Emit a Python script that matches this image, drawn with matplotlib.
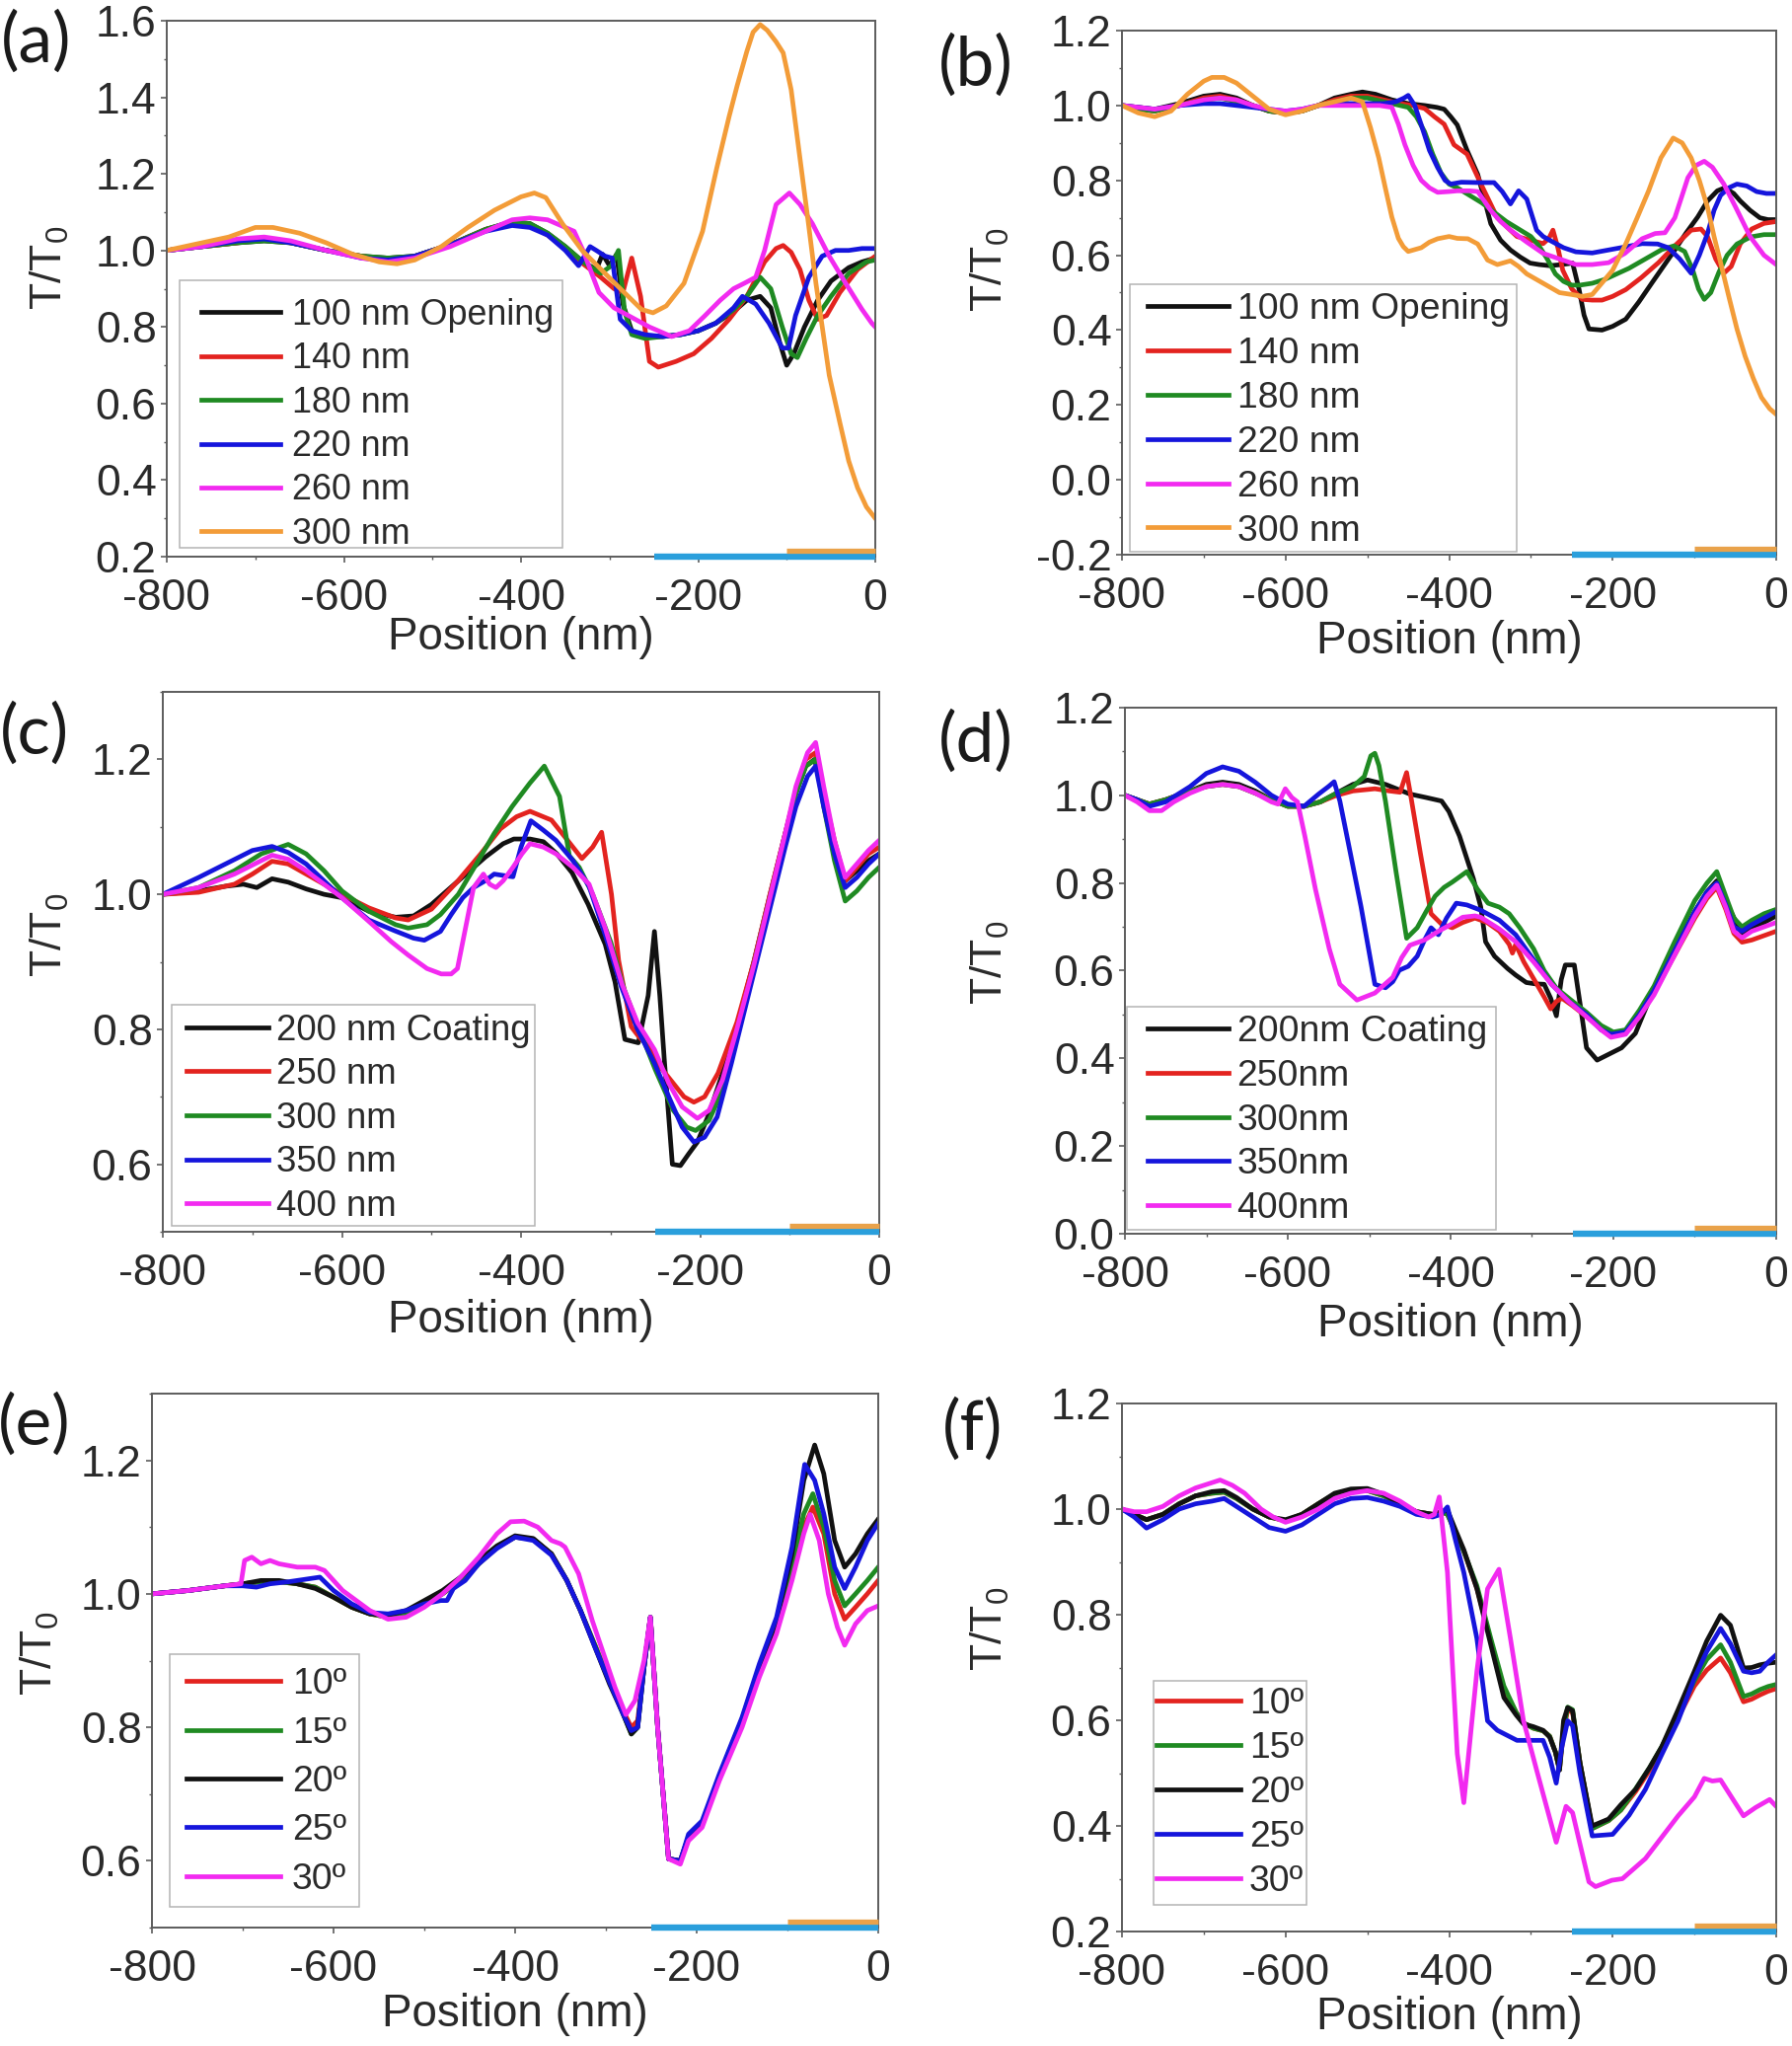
import matplotlib
matplotlib.use("Agg")
import matplotlib.pyplot as plt
from matplotlib.patches import Rectangle
from matplotlib.ticker import MultipleLocator, FuncFormatter
from matplotlib.transforms import offset_copy

plt.rcParams["font.family"] = ["Liberation Sans", "DejaVu Sans"]
plt.rcParams["axes.unicode_minus"] = False

W, H = 1816, 2073

# ---------------- data: (position nm, T/T0) ----------------
# (a) opening width
A_100 = [(-800,1.00),(-760,1.01),(-720,1.02),(-690,1.025),(-660,1.02),(-620,1.00),(-580,0.985),(-550,0.98),(-520,0.985),(-480,1.015),(-440,1.055),(-410,1.075),(-390,1.07),(-370,1.045),(-350,1.01),(-330,0.97),(-315,0.95),(-308,0.99),(-300,0.96),(-292,0.99),(-285,0.86),(-275,0.79),(-260,0.775),(-240,0.775),(-220,0.78),(-200,0.79),(-180,0.81),(-160,0.84),(-145,0.87),(-130,0.88),(-118,0.85),(-108,0.76),(-100,0.70),(-92,0.73),(-80,0.80),(-65,0.87),(-50,0.92),(-30,0.955),(-15,0.97),(0,0.98)]
A_140 = [(-800,1.00),(-760,1.01),(-720,1.02),(-690,1.03),(-660,1.02),(-620,1.00),(-580,0.985),(-550,0.975),(-520,0.985),(-480,1.015),(-440,1.055),(-410,1.07),(-390,1.065),(-370,1.04),(-350,1.005),(-330,0.965),(-310,0.93),(-295,0.90),(-285,0.89),(-275,0.98),(-265,0.88),(-255,0.71),(-245,0.695),(-225,0.71),(-205,0.73),(-185,0.77),(-165,0.82),(-145,0.88),(-125,0.97),(-112,1.005),(-104,1.013),(-95,0.995),(-85,0.95),(-75,0.87),(-65,0.82),(-55,0.83),(-40,0.89),(-20,0.95),(0,0.985)]
A_180 = [(-800,1.00),(-760,1.01),(-720,1.02),(-690,1.025),(-660,1.02),(-620,1.00),(-580,0.985),(-550,0.98),(-520,0.985),(-480,1.015),(-440,1.055),(-410,1.075),(-390,1.07),(-370,1.045),(-350,1.01),(-330,0.97),(-310,0.94),(-298,0.96),(-290,1.00),(-283,0.84),(-275,0.78),(-260,0.77),(-240,0.775),(-220,0.78),(-200,0.79),(-180,0.81),(-160,0.845),(-145,0.88),(-130,0.93),(-118,0.90),(-105,0.80),(-95,0.73),(-88,0.72),(-78,0.77),(-65,0.83),(-50,0.88),(-30,0.94),(-10,0.97),(0,0.975)]
A_220 = [(-800,1.00),(-760,1.01),(-720,1.025),(-690,1.03),(-660,1.02),(-620,1.00),(-580,0.98),(-550,0.975),(-520,0.985),(-480,1.015),(-440,1.05),(-410,1.065),(-390,1.06),(-370,1.04),(-350,1.00),(-335,0.96),(-322,1.01),(-315,1.00),(-305,0.985),(-297,0.98),(-288,0.82),(-275,0.79),(-260,0.78),(-240,0.775),(-220,0.78),(-200,0.79),(-180,0.81),(-160,0.85),(-150,0.88),(-135,0.86),(-120,0.81),(-105,0.745),(-98,0.745),(-90,0.83),(-75,0.93),(-60,0.985),(-45,1.00),(-30,1.00),(-15,1.005),(0,1.005)]
A_260 = [(-800,1.00),(-760,1.01),(-720,1.03),(-690,1.035),(-660,1.025),(-620,1.00),(-580,0.98),(-550,0.97),(-520,0.98),(-480,1.01),(-440,1.05),(-410,1.08),(-390,1.085),(-370,1.08),(-350,1.06),(-340,1.05),(-330,1.00),(-312,0.89),(-295,0.85),(-275,0.825),(-255,0.80),(-230,0.775),(-210,0.79),(-193,0.828),(-175,0.87),(-160,0.90),(-148,0.914),(-135,0.93),(-125,1.00),(-112,1.12),(-97,1.15),(-85,1.12),(-71,1.07),(-52,0.985),(-35,0.92),(-15,0.846),(-4,0.81),(0,0.80)]
A_300 = [(-800,1.00),(-760,1.02),(-730,1.035),(-700,1.06),(-680,1.06),(-650,1.045),(-620,1.02),(-590,0.99),(-560,0.97),(-540,0.965),(-520,0.975),(-490,1.01),(-460,1.06),(-430,1.105),(-400,1.14),(-385,1.15),(-372,1.138),(-353,1.069),(-331,1.00),(-294,0.914),(-264,0.846),(-251,0.837),(-236,0.855),(-216,0.914),(-195,1.05),(-179,1.215),(-165,1.35),(-156,1.43),(-145,1.52),(-138,1.57),(-130,1.59),(-122,1.575),(-112,1.545),(-104,1.516),(-95,1.42),(-86,1.258),(-76,1.08),(-67,0.914),(-52,0.674),(-40,0.55),(-30,0.45),(-20,0.38),(-10,0.33),(0,0.30)]

# (b) opening width
B_100 = [(-800,1.0),(-780,0.995),(-760,0.99),(-730,1.005),(-700,1.025),(-680,1.03),(-660,1.02),(-640,1.0),(-620,0.985),(-600,0.98),(-580,0.985),(-560,1.0),(-540,1.02),(-520,1.03),(-506,1.036),(-490,1.03),(-470,1.015),(-450,1.005),(-430,1.0),(-415,0.995),(-406,0.99),(-398,0.97),(-390,0.948),(-378,0.88),(-365,0.816),(-349,0.684),(-337,0.64),(-325,0.614),(-313,0.595),(-301,0.579),(-290,0.575),(-277,0.572),(-262,0.575),(-249,0.579),(-241,0.508),(-235,0.44),(-229,0.403),(-213,0.40),(-200,0.41),(-184,0.429),(-168,0.475),(-152,0.526),(-138,0.57),(-124,0.614),(-110,0.66),(-96,0.702),(-84,0.745),(-72,0.772),(-63,0.78),(-52,0.765),(-44,0.745),(-32,0.72),(-20,0.70),(-10,0.695),(0,0.695)]
B_140 = [(-800,1.0),(-780,0.99),(-760,0.985),(-730,1.0),(-700,1.02),(-680,1.025),(-660,1.015),(-640,1.0),(-620,0.985),(-600,0.98),(-580,0.985),(-560,1.0),(-540,1.015),(-520,1.025),(-500,1.025),(-480,1.015),(-460,1.005),(-445,1.0),(-430,0.992),(-418,0.97),(-406,0.95),(-394,0.895),(-378,0.87),(-361,0.79),(-341,0.70),(-317,0.65),(-300,0.64),(-285,0.631),(-278,0.645),(-273,0.667),(-267,0.62),(-261,0.56),(-250,0.51),(-237,0.482),(-225,0.48),(-213,0.48),(-200,0.49),(-184,0.508),(-165,0.54),(-144,0.58),(-124,0.625),(-104,0.667),(-92,0.67),(-84,0.65),(-74,0.59),(-64,0.552),(-55,0.57),(-44,0.63),(-30,0.67),(-15,0.685),(0,0.69)]
B_180 = [(-800,1.0),(-780,0.99),(-760,0.985),(-730,1.0),(-700,1.015),(-680,1.02),(-660,1.01),(-640,1.0),(-620,0.985),(-600,0.98),(-580,0.985),(-560,1.0),(-540,1.01),(-520,1.02),(-500,1.02),(-480,1.01),(-460,1.0),(-450,0.995),(-440,0.97),(-430,0.93),(-420,0.87),(-410,0.82),(-400,0.79),(-390,0.78),(-375,0.76),(-360,0.74),(-345,0.715),(-330,0.69),(-315,0.67),(-300,0.65),(-290,0.625),(-280,0.59),(-270,0.55),(-260,0.53),(-250,0.52),(-240,0.52),(-225,0.525),(-210,0.535),(-195,0.55),(-180,0.565),(-160,0.59),(-140,0.615),(-125,0.625),(-112,0.61),(-102,0.56),(-95,0.51),(-88,0.482),(-80,0.50),(-70,0.555),(-60,0.60),(-48,0.63),(-31,0.649),(-15,0.655),(0,0.655)]
B_220 = [(-800,1.0),(-780,0.995),(-760,0.99),(-730,1.0),(-700,1.005),(-680,1.005),(-660,1.0),(-640,0.995),(-620,0.99),(-600,0.985),(-580,0.99),(-560,1.0),(-540,1.005),(-520,1.005),(-500,1.005),(-480,1.005),(-465,1.01),(-455,1.02),(-450,1.027),(-442,1.0),(-434,0.948),(-424,0.88),(-414,0.834),(-405,0.80),(-398,0.79),(-385,0.795),(-365,0.794),(-345,0.794),(-335,0.77),(-325,0.737),(-315,0.772),(-305,0.75),(-293,0.667),(-285,0.65),(-277,0.64),(-260,0.62),(-245,0.609),(-225,0.606),(-205,0.614),(-185,0.622),(-164,0.631),(-145,0.63),(-132,0.62),(-118,0.59),(-104,0.552),(-94,0.60),(-84,0.658),(-76,0.72),(-68,0.76),(-58,0.78),(-48,0.79),(-36,0.785),(-24,0.77),(-12,0.765),(0,0.765)]
B_260 = [(-800,1.0),(-780,0.995),(-760,0.99),(-730,1.0),(-700,1.015),(-680,1.02),(-660,1.015),(-640,1.0),(-620,0.99),(-600,0.985),(-580,0.99),(-560,1.0),(-540,1.0),(-520,1.0),(-500,1.0),(-485,1.0),(-470,0.995),(-462,0.95),(-454,0.895),(-444,0.84),(-434,0.80),(-424,0.78),(-414,0.768),(-400,0.77),(-390,0.772),(-375,0.772),(-365,0.77),(-357,0.745),(-349,0.719),(-337,0.69),(-325,0.667),(-305,0.635),(-285,0.605),(-265,0.59),(-245,0.575),(-225,0.575),(-205,0.58),(-185,0.605),(-164,0.644),(-148,0.658),(-136,0.66),(-124,0.70),(-115,0.76),(-108,0.807),(-98,0.84),(-88,0.851),(-78,0.835),(-64,0.79),(-50,0.73),(-32,0.65),(-15,0.60),(0,0.575)]
B_300 = [(-800,1.0),(-780,0.98),(-760,0.97),(-740,0.985),(-720,1.03),(-700,1.065),(-690,1.075),(-675,1.075),(-660,1.06),(-640,1.025),(-620,0.99),(-600,0.975),(-580,0.985),(-560,1.0),(-540,1.01),(-520,1.02),(-506,1.01),(-496,0.94),(-486,0.86),(-478,0.78),(-470,0.702),(-462,0.645),(-456,0.623),(-450,0.61),(-442,0.615),(-434,0.62),(-424,0.635),(-414,0.644),(-400,0.65),(-390,0.645),(-377,0.644),(-365,0.63),(-353,0.587),(-341,0.575),(-333,0.58),(-325,0.585),(-315,0.57),(-305,0.55),(-285,0.525),(-265,0.50),(-250,0.495),(-237,0.49),(-225,0.495),(-213,0.526),(-200,0.56),(-184,0.63),(-170,0.70),(-156,0.772),(-141,0.86),(-126,0.913),(-115,0.90),(-104,0.86),(-94,0.80),(-84,0.728),(-76,0.65),(-68,0.58),(-58,0.49),(-48,0.403),(-38,0.33),(-28,0.271),(-18,0.22),(-8,0.19),(0,0.175)]

# (c) coating thickness
C_200 = [(-800,1.0),(-760,1.005),(-730,1.012),(-710,1.015),(-695,1.01),(-678,1.023),(-660,1.018),(-640,1.008),(-620,1.0),(-600,0.995),(-570,0.975),(-540,0.966),(-520,0.968),(-500,0.985),(-470,1.02),(-440,1.055),(-420,1.075),(-408,1.082),(-390,1.082),(-375,1.078),(-360,1.06),(-343,1.032),(-325,0.985),(-306,0.926),(-295,0.87),(-284,0.785),(-269,0.78),(-258,0.85),(-251,0.945),(-245,0.85),(-240,0.755),(-231,0.60),(-222,0.598),(-213,0.615),(-203,0.633),(-190,0.675),(-175,0.735),(-159,0.804),(-140,0.90),(-122,0.999),(-105,1.09),(-93,1.15),(-82,1.19),(-72,1.20),(-62,1.14),(-50,1.07),(-38,1.02),(-25,1.035),(-12,1.05),(0,1.06)]
C_250 = [(-800,1.0),(-760,1.003),(-720,1.015),(-700,1.03),(-678,1.049),(-660,1.045),(-640,1.03),(-620,1.015),(-600,1.0),(-570,0.98),(-540,0.965),(-526,0.962),(-500,0.978),(-471,1.019),(-445,1.06),(-423,1.097),(-405,1.115),(-390,1.123),(-366,1.11),(-348,1.08),(-332,1.053),(-320,1.07),(-310,1.092),(-299,1.0),(-291,0.902),(-277,0.804),(-269,0.79),(-258,0.775),(-245,0.745),(-230,0.72),(-218,0.70),(-207,0.692),(-195,0.70),(-180,0.735),(-159,0.81),(-140,0.90),(-122,1.0),(-105,1.09),(-93,1.155),(-82,1.20),(-71,1.21),(-62,1.15),(-50,1.08),(-38,1.02),(-25,1.04),(-12,1.06),(0,1.07)]
C_300 = [(-800,1.0),(-760,1.01),(-720,1.035),(-690,1.06),(-660,1.074),(-640,1.06),(-620,1.035),(-600,1.005),(-570,0.975),(-540,0.955),(-526,0.95),(-505,0.955),(-490,0.97),(-470,1.0),(-453,1.038),(-430,1.09),(-410,1.13),(-390,1.165),(-374,1.19),(-357,1.145),(-346,1.057),(-335,1.04),(-320,1.0),(-300,0.93),(-285,0.86),(-268,0.80),(-250,0.74),(-230,0.68),(-215,0.655),(-205,0.65),(-190,0.665),(-175,0.71),(-159,0.795),(-140,0.895),(-122,0.995),(-105,1.085),(-93,1.15),(-82,1.19),(-71,1.20),(-62,1.13),(-50,1.05),(-38,0.99),(-25,1.005),(-12,1.025),(0,1.04)]
C_350 = [(-800,1.0),(-760,1.025),(-730,1.045),(-700,1.065),(-678,1.071),(-660,1.062),(-640,1.045),(-620,1.02),(-600,0.995),(-570,0.962),(-541,0.946),(-520,0.935),(-508,0.932),(-490,0.945),(-478,0.97),(-465,0.995),(-453,1.01),(-440,1.02),(-430,1.03),(-420,1.028),(-409,1.026),(-400,1.07),(-389,1.109),(-375,1.095),(-361,1.08),(-342,1.05),(-324,1.012),(-306,0.94),(-288,0.863),(-270,0.80),(-251,0.75),(-235,0.70),(-220,0.655),(-207,0.633),(-195,0.64),(-181,0.67),(-165,0.75),(-150,0.83),(-135,0.91),(-120,0.99),(-105,1.07),(-93,1.13),(-80,1.175),(-71,1.19),(-62,1.13),(-50,1.06),(-38,1.01),(-25,1.025),(-12,1.045),(0,1.06)]
C_400 = [(-800,1.0),(-760,1.01),(-720,1.03),(-690,1.05),(-678,1.058),(-660,1.052),(-640,1.035),(-620,1.015),(-600,0.995),(-570,0.96),(-545,0.93),(-526,0.91),(-505,0.89),(-489,0.882),(-478,0.882),(-471,0.89),(-462,0.95),(-453,1.01),(-442,1.03),(-435,1.015),(-428,1.01),(-420,1.02),(-409,1.04),(-399,1.06),(-390,1.075),(-375,1.07),(-361,1.06),(-342,1.04),(-324,1.015),(-306,0.95),(-287,0.866),(-270,0.81),(-251,0.77),(-235,0.72),(-220,0.685),(-203,0.668),(-190,0.68),(-175,0.725),(-159,0.80),(-140,0.895),(-122,0.995),(-105,1.09),(-93,1.16),(-80,1.21),(-71,1.225),(-62,1.16),(-50,1.08),(-38,1.025),(-25,1.045),(-12,1.065),(0,1.08)]

# (d) coating thickness
D_200 = [(-800,1.0),(-785,0.99),(-770,0.98),(-750,0.99),(-720,1.01),(-700,1.025),(-680,1.03),(-660,1.025),(-640,1.01),(-620,0.99),(-600,0.975),(-580,0.975),(-560,0.985),(-540,1.005),(-520,1.025),(-502,1.035),(-480,1.025),(-450,1.003),(-430,0.995),(-411,0.987),(-402,0.963),(-389,0.907),(-372,0.81),(-363,0.746),(-357,0.666),(-346,0.633),(-330,0.605),(-320,0.59),(-307,0.573),(-296,0.57),(-285,0.569),(-277,0.537),(-270,0.497),(-264,0.58),(-259,0.613),(-248,0.613),(-240,0.513),(-233,0.424),(-220,0.396),(-205,0.41),(-190,0.424),(-173,0.457),(-150,0.56),(-125,0.65),(-100,0.735),(-85,0.78),(-73,0.805),(-60,0.75),(-42,0.685),(-30,0.70),(-15,0.71),(0,0.725)]
D_250 = [(-800,1.0),(-785,0.99),(-770,0.98),(-750,0.99),(-720,1.01),(-700,1.02),(-680,1.025),(-660,1.02),(-640,1.005),(-620,0.99),(-600,0.975),(-580,0.975),(-560,0.985),(-540,1.0),(-520,1.01),(-493,1.015),(-475,1.01),(-462,1.007),(-454,1.052),(-449,1.0),(-437,0.867),(-424,0.73),(-411,0.706),(-398,0.698),(-385,0.71),(-370,0.72),(-355,0.71),(-340,0.69),(-328,0.66),(-324,0.64),(-320,0.66),(-310,0.62),(-294,0.569),(-285,0.54),(-277,0.513),(-270,0.53),(-263,0.537),(-250,0.52),(-233,0.495),(-215,0.47),(-203,0.455),(-185,0.46),(-168,0.495),(-150,0.55),(-125,0.635),(-100,0.72),(-85,0.765),(-73,0.79),(-62,0.74),(-52,0.685),(-42,0.665),(-30,0.67),(-15,0.68),(0,0.69)]
D_300 = [(-800,1.0),(-785,0.99),(-770,0.98),(-750,0.99),(-720,1.01),(-700,1.02),(-680,1.025),(-660,1.02),(-640,1.005),(-620,0.99),(-600,0.975),(-580,0.975),(-560,0.985),(-540,1.005),(-520,1.02),(-506,1.043),(-498,1.09),(-493,1.096),(-488,1.068),(-480,0.987),(-467,0.826),(-454,0.674),(-441,0.698),(-430,0.735),(-419,0.77),(-408,0.79),(-398,0.802),(-380,0.826),(-367,0.786),(-354,0.754),(-340,0.745),(-328,0.73),(-315,0.698),(-298,0.65),(-285,0.60),(-270,0.56),(-250,0.53),(-233,0.505),(-215,0.475),(-200,0.46),(-185,0.465),(-168,0.51),(-150,0.565),(-125,0.665),(-100,0.76),(-85,0.80),(-73,0.826),(-62,0.77),(-52,0.72),(-42,0.70),(-30,0.715),(-15,0.73),(0,0.74)]
D_350 = [(-800,1.0),(-785,0.99),(-770,0.975),(-750,0.985),(-720,1.02),(-700,1.05),(-680,1.065),(-660,1.055),(-640,1.03),(-620,1.0),(-600,0.98),(-580,0.975),(-562,1.003),(-550,1.02),(-543,1.031),(-536,0.987),(-523,0.867),(-510,0.746),(-493,0.569),(-480,0.561),(-471,0.575),(-463,0.601),(-452,0.61),(-441,0.633),(-432,0.67),(-424,0.698),(-415,0.682),(-405,0.72),(-393,0.754),(-380,0.75),(-363,0.738),(-340,0.715),(-320,0.682),(-298,0.625),(-276,0.569),(-255,0.53),(-233,0.50),(-215,0.465),(-203,0.455),(-185,0.46),(-168,0.50),(-150,0.555),(-125,0.645),(-100,0.735),(-85,0.78),(-73,0.80),(-62,0.75),(-52,0.70),(-42,0.69),(-30,0.705),(-15,0.72),(0,0.735)]
D_400 = [(-800,1.0),(-785,0.985),(-770,0.965),(-755,0.965),(-740,0.985),(-720,1.005),(-700,1.02),(-680,1.025),(-660,1.02),(-640,1.005),(-620,0.985),(-612,0.98),(-603,1.015),(-595,0.995),(-588,0.985),(-579,0.907),(-566,0.786),(-549,0.65),(-536,0.569),(-515,0.533),(-493,0.549),(-471,0.585),(-460,0.63),(-450,0.658),(-432,0.67),(-415,0.69),(-400,0.705),(-385,0.722),(-370,0.725),(-363,0.722),(-340,0.695),(-320,0.666),(-298,0.62),(-276,0.569),(-255,0.53),(-233,0.495),(-215,0.465),(-203,0.448),(-185,0.455),(-168,0.495),(-150,0.545),(-125,0.635),(-100,0.725),(-85,0.77),(-73,0.795),(-62,0.745),(-52,0.69),(-42,0.675),(-30,0.69),(-15,0.70),(0,0.71)]

# (e) incidence angle
E_10 = [(-800,1.0),(-760,1.005),(-720,1.012),(-700,1.015),(-680,1.018),(-660,1.018),(-640,1.015),(-620,1.01),(-600,0.995),(-580,0.98),(-560,0.97),(-540,0.965),(-520,0.97),(-500,0.985),(-480,1.0),(-460,1.02),(-440,1.045),(-420,1.07),(-400,1.085),(-380,1.082),(-360,1.06),(-343,1.02),(-328,0.975),(-312,0.923),(-296,0.87),(-281,0.825),(-272,0.80),(-265,0.81),(-258,0.89),(-251,0.965),(-243,0.80),(-231,0.603),(-218,0.60),(-209,0.636),(-194,0.656),(-175,0.727),(-150,0.812),(-131,0.89),(-112,0.956),(-95,1.04),(-82,1.10),(-72,1.13),(-60,1.09),(-48,1.0),(-37,0.962),(-25,0.98),(-12,1.0),(0,1.02)]
E_15 = [(-800,1.0),(-760,1.005),(-720,1.012),(-700,1.015),(-680,1.018),(-660,1.018),(-640,1.015),(-620,1.01),(-600,0.995),(-580,0.98),(-560,0.97),(-540,0.965),(-520,0.97),(-500,0.985),(-480,1.0),(-460,1.02),(-440,1.045),(-420,1.07),(-400,1.085),(-380,1.082),(-360,1.06),(-343,1.02),(-328,0.975),(-312,0.923),(-296,0.87),(-281,0.82),(-272,0.79),(-265,0.80),(-258,0.89),(-251,0.965),(-243,0.80),(-231,0.603),(-218,0.60),(-209,0.636),(-194,0.656),(-175,0.727),(-150,0.812),(-131,0.89),(-112,0.956),(-95,1.045),(-82,1.12),(-72,1.15),(-60,1.10),(-48,1.02),(-37,0.982),(-25,1.0),(-12,1.02),(0,1.04)]
E_20 = [(-800,1.0),(-760,1.005),(-720,1.012),(-700,1.015),(-680,1.02),(-660,1.02),(-640,1.015),(-620,1.008),(-600,0.995),(-580,0.98),(-560,0.97),(-540,0.968),(-520,0.975),(-500,0.99),(-480,1.005),(-460,1.025),(-440,1.05),(-420,1.072),(-400,1.087),(-380,1.083),(-360,1.06),(-343,1.02),(-328,0.975),(-312,0.92),(-296,0.865),(-281,0.82),(-272,0.79),(-265,0.80),(-258,0.89),(-251,0.965),(-243,0.80),(-231,0.603),(-218,0.60),(-209,0.636),(-194,0.656),(-175,0.727),(-150,0.812),(-131,0.89),(-112,0.96),(-95,1.06),(-82,1.17),(-70,1.223),(-60,1.18),(-48,1.08),(-37,1.04),(-25,1.06),(-12,1.09),(0,1.112)]
E_25 = [(-800,1.0),(-760,1.005),(-720,1.012),(-700,1.012),(-685,1.01),(-670,1.015),(-650,1.018),(-630,1.022),(-615,1.025),(-600,1.005),(-580,0.985),(-560,0.972),(-540,0.97),(-520,0.975),(-500,0.985),(-482,0.99),(-475,0.99),(-468,1.008),(-455,1.02),(-440,1.045),(-420,1.068),(-400,1.085),(-380,1.08),(-360,1.058),(-343,1.02),(-328,0.975),(-312,0.92),(-296,0.868),(-281,0.82),(-272,0.795),(-265,0.80),(-258,0.89),(-251,0.965),(-243,0.80),(-231,0.603),(-218,0.60),(-209,0.64),(-194,0.66),(-175,0.73),(-150,0.815),(-131,0.895),(-112,0.965),(-95,1.07),(-81,1.194),(-70,1.17),(-60,1.12),(-48,1.04),(-37,1.008),(-25,1.04),(-12,1.08),(0,1.106)]
E_30 = [(-800,1.0),(-760,1.005),(-720,1.012),(-702,1.015),(-698,1.05),(-690,1.055),(-680,1.045),(-670,1.05),(-660,1.045),(-640,1.04),(-630,1.04),(-620,1.04),(-610,1.035),(-600,1.02),(-590,1.005),(-575,0.99),(-560,0.975),(-540,0.962),(-520,0.965),(-500,0.98),(-480,1.0),(-460,1.025),(-440,1.055),(-420,1.09),(-405,1.108),(-390,1.109),(-375,1.10),(-360,1.08),(-350,1.075),(-345,1.07),(-330,1.03),(-315,0.96),(-300,0.90),(-290,0.86),(-278,0.819),(-268,0.84),(-258,0.90),(-251,0.965),(-243,0.80),(-231,0.603),(-218,0.595),(-209,0.63),(-194,0.65),(-175,0.72),(-150,0.80),(-131,0.875),(-112,0.94),(-95,1.02),(-82,1.09),(-75,1.119),(-65,1.08),(-55,1.0),(-45,0.95),(-37,0.923),(-25,0.955),(-12,0.975),(0,0.982)]

# (f) incidence angle
F_10 = [(-800,1.0),(-785,0.99),(-770,0.98),(-750,0.99),(-730,1.01),(-710,1.025),(-690,1.03),(-675,1.032),(-660,1.02),(-640,1.0),(-620,0.985),(-600,0.978),(-580,0.99),(-560,1.01),(-540,1.028),(-520,1.036),(-500,1.035),(-480,1.025),(-460,1.01),(-440,0.995),(-420,0.99),(-410,0.995),(-402,0.99),(-392,0.955),(-382,0.92),(-366,0.85),(-349,0.75),(-333,0.66),(-318,0.615),(-309,0.595),(-297,0.585),(-285,0.58),(-277,0.57),(-270,0.54),(-265,0.506),(-260,0.58),(-255,0.62),(-249,0.615),(-240,0.52),(-225,0.395),(-205,0.41),(-190,0.43),(-172,0.465),(-155,0.505),(-140,0.545),(-120,0.605),(-100,0.665),(-85,0.695),(-68,0.718),(-56,0.69),(-40,0.635),(-30,0.64),(-20,0.648),(-10,0.655),(0,0.66)]
F_15 = [(-800,1.0),(-785,0.99),(-770,0.98),(-750,0.99),(-730,1.01),(-710,1.025),(-690,1.03),(-675,1.032),(-660,1.02),(-640,1.0),(-620,0.985),(-600,0.978),(-580,0.99),(-560,1.01),(-540,1.028),(-520,1.036),(-500,1.035),(-480,1.025),(-460,1.01),(-440,0.995),(-420,0.99),(-410,0.995),(-402,0.99),(-392,0.955),(-382,0.92),(-366,0.855),(-349,0.755),(-333,0.665),(-318,0.615),(-309,0.595),(-297,0.585),(-285,0.58),(-277,0.57),(-270,0.54),(-265,0.506),(-260,0.585),(-255,0.625),(-249,0.62),(-240,0.52),(-225,0.395),(-205,0.41),(-190,0.43),(-172,0.47),(-155,0.51),(-140,0.55),(-120,0.61),(-100,0.675),(-85,0.715),(-68,0.743),(-56,0.71),(-40,0.645),(-30,0.65),(-20,0.658),(-10,0.664),(0,0.668)]
F_20 = [(-800,1.0),(-785,0.99),(-770,0.98),(-750,0.99),(-730,1.01),(-710,1.025),(-690,1.033),(-675,1.035),(-660,1.022),(-640,1.0),(-620,0.985),(-600,0.98),(-580,0.99),(-560,1.01),(-540,1.03),(-520,1.038),(-500,1.039),(-480,1.028),(-460,1.01),(-440,0.995),(-420,0.99),(-410,0.995),(-402,0.998),(-392,0.96),(-382,0.923),(-366,0.849),(-349,0.743),(-333,0.643),(-318,0.61),(-309,0.593),(-297,0.588),(-285,0.581),(-277,0.568),(-270,0.54),(-265,0.506),(-260,0.60),(-255,0.624),(-249,0.618),(-240,0.52),(-225,0.40),(-205,0.413),(-190,0.44),(-172,0.469),(-155,0.51),(-140,0.55),(-120,0.62),(-100,0.693),(-85,0.75),(-68,0.799),(-56,0.78),(-40,0.699),(-30,0.70),(-20,0.705),(-10,0.708),(0,0.71)]
F_25 = [(-800,1.0),(-785,0.985),(-770,0.964),(-750,0.98),(-730,1.0),(-710,1.01),(-690,1.015),(-675,1.02),(-660,1.005),(-640,0.985),(-620,0.965),(-600,0.958),(-580,0.97),(-560,0.99),(-540,1.01),(-520,1.02),(-500,1.022),(-480,1.015),(-460,1.005),(-440,0.99),(-420,0.985),(-410,0.99),(-402,1.004),(-392,0.94),(-382,0.88),(-366,0.755),(-353,0.599),(-341,0.581),(-317,0.562),(-285,0.562),(-277,0.53),(-269,0.481),(-262,0.55),(-255,0.599),(-249,0.59),(-240,0.50),(-225,0.381),(-200,0.384),(-180,0.42),(-160,0.469),(-140,0.535),(-120,0.599),(-100,0.68),(-85,0.73),(-68,0.774),(-56,0.745),(-40,0.693),(-30,0.69),(-20,0.693),(-10,0.71),(0,0.724)]
F_30 = [(-800,1.0),(-785,0.995),(-770,0.995),(-750,1.005),(-730,1.025),(-710,1.04),(-690,1.05),(-680,1.055),(-665,1.045),(-650,1.03),(-630,1.0),(-615,0.985),(-600,0.975),(-580,0.985),(-560,1.0),(-540,1.02),(-520,1.03),(-500,1.035),(-480,1.03),(-460,1.015),(-440,0.995),(-425,0.985),(-418,0.99),(-412,1.023),(-402,0.88),(-390,0.537),(-382,0.444),(-366,0.693),(-353,0.849),(-339,0.886),(-325,0.755),(-309,0.599),(-293,0.506),(-269,0.369),(-257,0.437),(-249,0.425),(-229,0.294),(-221,0.285),(-201,0.297),(-188,0.30),(-160,0.338),(-120,0.419),(-100,0.455),(-88,0.49),(-78,0.485),(-68,0.487),(-40,0.419),(-25,0.435),(-8,0.45),(0,0.437)]

OPENING_LABELS = ["100 nm Opening", "140 nm", "180 nm", "220 nm", "260 nm", "300 nm"]
COATING_LABELS_C = ["200 nm Coating", "250 nm", "300 nm", "350 nm", "400 nm"]
COATING_LABELS_D = ["200nm Coating", "250nm", "300nm", "350nm", "400nm"]
ANGLE_LABELS = ["10º", "15º", "20º", "25º", "30º"]

BLUE_BAR = (-250, 0)      # blue strip along the bottom axis
ORANGE_BAR = (-100, 0)    # orange strip above it

# ---------------- style ----------------
BLACK, RED, GREEN, BLUE, MAGENTA, ORANGE = "#111111", "#e3231f", "#1f8a22", "#1515dc", "#f22af0", "#f39c38"
BAR_BLUE, BAR_ORANGE = "#2a9fdc", "#e9a24a"
SPINE = "#5c5c5c"
TEXT = "#2a2a2a"
LW = 3.4

OPEN_COLORS = [BLACK, RED, GREEN, BLUE, MAGENTA, ORANGE]
COAT_COLORS = [BLACK, RED, GREEN, BLUE, MAGENTA]
ANGLE_COLORS = [RED, GREEN, BLACK, BLUE, MAGENTA]

# layout, all in reference pixels
PANELS = [
    dict(tag="(a)", tag_xy=(37, 42), box=(169, 21, 887, 564), ylim=(0.2, 1.6),
         series=[A_100, A_140, A_180, A_220, A_260, A_300], colors=OPEN_COLORS, labels=OPENING_LABELS,
         leg_box=(182, 284, 570, 555), leg_x=204, leg_y=319, leg_step=43.4, leg_fs=25.8, leg_hl=80, leg_gap=12,
         ylab=(50, 271), xlab_y=646),
    dict(tag="(b)", tag_xy=(989, 66), box=(1137, 31, 1800, 562), ylim=(-0.2, 1.2),
         series=[B_100, B_140, B_180, B_220, B_260, B_300], colors=OPEN_COLORS, labels=OPENING_LABELS,
         leg_box=(1145, 288, 1537, 559), leg_x=1163, leg_y=314, leg_step=45.2, leg_fs=26.8, leg_hl=82, leg_gap=8.5,
         ylab=(1003, 273), xlab_y=650),
    dict(tag="(c)", tag_xy=(35, 743), box=(165, 701, 891, 1248), ylim=(0.5, 1.3),
         series=[C_200, C_250, C_300, C_350, C_400], colors=COAT_COLORS, labels=COATING_LABELS_C,
         leg_box=(174, 1018, 542, 1242), leg_x=189, leg_y=1044, leg_step=44.3, leg_fs=26.3, leg_hl=83, leg_gap=8.5,
         ylab=(50, 947), xlab_y=1338),
    dict(tag="(d)", tag_xy=(989, 751), box=(1140, 717, 1800, 1250), ylim=(0.0, 1.2),
         series=[D_200, D_250, D_300, D_350, D_400], colors=COAT_COLORS, labels=COATING_LABELS_D,
         leg_box=(1142, 1020, 1516, 1246), leg_x=1163, leg_y=1046, leg_step=45, leg_fs=26.8, leg_hl=82, leg_gap=8.5,
         ylab=(1003, 975), xlab_y=1342),
    dict(tag="(e)", tag_xy=(35, 1443), box=(154, 1412, 890, 1953), ylim=(0.5, 1.3),
         series=[E_10, E_15, E_20, E_25, E_30], colors=ANGLE_COLORS, labels=ANGLE_LABELS,
         leg_box=(172, 1676, 364, 1932), leg_x=189, leg_y=1707, leg_step=49.7, leg_fs=26.8, leg_hl=95, leg_gap=12,
         ylab=(40, 1675), xlab_y=2041),
    dict(tag="(f)", tag_xy=(986, 1448), box=(1137, 1422, 1800, 1957), ylim=(0.2, 1.2),
         series=[F_10, F_15, F_20, F_25, F_30], colors=ANGLE_COLORS, labels=ANGLE_LABELS,
         leg_box=(1169, 1703, 1324, 1930), leg_x=1172, leg_y=1727, leg_step=45.2, leg_fs=26.8, leg_hl=85, leg_gap=9,
         ylab=(1003, 1650), xlab_y=2044),
]


def fx(px):
    return px / W


def fy(py):
    return 1 - py / H


def one_decimal(v, _pos):
    return f"{round(v, 1) + 0:.1f}"


fig = plt.figure(figsize=(W / 100, H / 100), dpi=100)

for p in PANELS:
    l, t, r, b = p["box"]
    ax = fig.add_axes([fx(l), fy(b), (r - l) / W, (b - t) / H])

    handles = []
    for pts, color in zip(p["series"], p["colors"]):
        xs, ys = zip(*pts)
        (ln,) = ax.plot(xs, ys, color=color, lw=LW, solid_joinstyle="round", zorder=2)
        handles.append(ln)

    ax.set_xlim(-800, 0)
    ax.set_ylim(*p["ylim"])
    ax.xaxis.set_major_locator(MultipleLocator(200))
    ax.xaxis.set_minor_locator(MultipleLocator(100))
    ax.yaxis.set_major_locator(MultipleLocator(0.2))
    ax.yaxis.set_minor_locator(MultipleLocator(0.1))
    ax.yaxis.set_major_formatter(FuncFormatter(one_decimal))
    ax.tick_params(which="both", direction="out", top=False, right=False, color=SPINE, labelcolor=TEXT)
    ax.tick_params(which="major", length=4.5, width=1.2, labelsize=32)
    ax.tick_params(axis="x", which="major", pad=11)
    ax.tick_params(axis="y", which="major", pad=3)
    ax.tick_params(which="minor", length=2.5, width=1.0)
    for s in ax.spines.values():
        s.set_color(SPINE)
        s.set_linewidth(1.4)

    # coloured strips on the bottom axis
    xt = ax.get_xaxis_transform()
    ax.plot(BLUE_BAR, (0, 0), transform=xt, color=BAR_BLUE, lw=4.6, solid_capstyle="butt",
            clip_on=False, zorder=6)
    ax.plot(ORANGE_BAR, (0, 0), transform=offset_copy(xt, fig=fig, y=4.2, units="points"),
            color=BAR_ORANGE, lw=3.8, solid_capstyle="butt", clip_on=False, zorder=6)

    ax.set_xlabel("Position (nm)", fontsize=33, color=TEXT)
    ax.xaxis.set_label_coords(fx((l + r) / 2), fy(p["xlab_y"]), transform=fig.transFigure)
    ax.xaxis.label.set_va("center")
    ax.set_ylabel(r"T/T$_\mathregular{0}$", fontsize=32, color=TEXT)
    ax.yaxis.set_label_coords(fx(p["ylab"][0]), fy(p["ylab"][1]), transform=fig.transFigure)
    ax.yaxis.label.set_va("center")

    # legend: frame drawn by hand, entries placed without padding
    bl, bt, br, bb = p["leg_box"]
    fig.add_artist(Rectangle((fx(bl), fy(bb)), (br - bl) / W, (bb - bt) / H, transform=fig.transFigure,
                             fill=False, edgecolor="#b4b4b4", lw=1.1, zorder=4))
    fs_px = p["leg_fs"] * 100 / 72
    row_h = 0.95 * fs_px
    fig.legend(handles, p["labels"], loc="upper left",
               bbox_to_anchor=(fx(p["leg_x"]), fy(p["leg_y"] - row_h / 2)), bbox_transform=fig.transFigure,
               frameon=False, borderpad=0, borderaxespad=0, fontsize=p["leg_fs"],
               handlelength=p["leg_hl"] / fs_px, handletextpad=p["leg_gap"] / fs_px,
               labelspacing=(p["leg_step"] - row_h) / fs_px, labelcolor=TEXT)

    fig.text(fx(p["tag_xy"][0]), fy(p["tag_xy"][1]), p["tag"], ha="center", va="center",
             fontsize=50, color="#1a1a1a", family=["Lato", "DejaVu Sans"])

fig.savefig("out.png", dpi=100)
